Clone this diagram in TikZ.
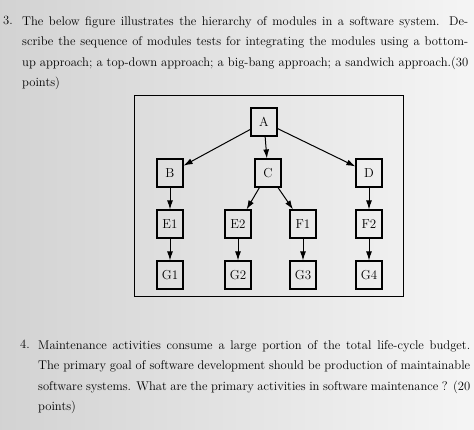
\documentclass[tikz,border=0pt]{standalone}
\usetikzlibrary{arrows.meta}
\newcommand{\fullline}[2]{\makebox[#1][s]{#2}}
\begin{document}
\begin{tikzpicture}[x=1pt,y=-1pt,
		module/.style={draw,line width=1.2pt,minimum width=26pt,minimum height=28pt,inner sep=0pt,font=\fontsize{13}{15}\selectfont},
		call/.style={-{Latex[length=9pt,width=6pt]},line width=1pt},
		para/.style={anchor=north west,inner sep=0pt,align=left,font=\fontsize{12.6}{20.5}\selectfont}]
			\useasboundingbox (0,0) rectangle (474,429);
			\shade [left color=gray!35,right color=gray!8] (0,0) rectangle (474,429);
			% question 3
			\node [para] (n3) at (3,16) {3.};
			\node [para] (q3) at (22,16) {\fullline{446pt}{The below figure illustrates the hierarchy of modules in a software system. De-}\\
				\fullline{446pt}{scribe the sequence of modules tests for integrating the modules using a bottom-}\\
				\fullline{446pt}{up approach; a top-down approach; a big-bang approach; a sandwich approach.(30}\\
				points)};
			% the module hierarchy
			\draw [line width=1pt] (134,95) rectangle (403,296);
			\node [module] (A) at (264,122) {A};
			\node [module] (B) at (170,173) {B};
			\node [module] (C) at (268,173) {C};
			\node [module] (D) at (369,173) {D};
			\node [module] (E1) at (170,224) {E1};
			\node [module] (E2) at (238,224) {E2};
			\node [module] (F1) at (303,224) {F1};
			\node [module] (F2) at (369,224) {F2};
			\node [module] (G1) at (170,275) {G1};
			\node [module] (G2) at (238,275) {G2};
			\node [module] (G3) at (303,275) {G3};
			\node [module] (G4) at (369,275) {G4};
			\draw [call] (A) -- (B);
			\draw [call] (A) -- (C);
			\draw [call] (A) -- (D);
			\draw [call] (B) -- (E1);
			\draw [call] (C) -- (E2);
			\draw [call] (C) -- (F1);
			\draw [call] (D) -- (F2);
			\draw [call] (E1) -- (G1);
			\draw [call] (E2) -- (G2);
			\draw [call] (F1) -- (G3);
			\draw [call] (F2) -- (G4);
			% question 4
			\node [para] (n4) at (20,340) {4.};
			\node [para] (q4) at (38,340) {\fullline{432pt}{Maintenance activities consume a large portion of the total life-cycle budget.}\\
				\fullline{432pt}{The primary goal of software development should be production of maintainable}\\
				\fullline{432pt}{software systems. What are the primary activities in software maintenance ? (20}\\
				points)};
		\end{tikzpicture}
\end{document}
